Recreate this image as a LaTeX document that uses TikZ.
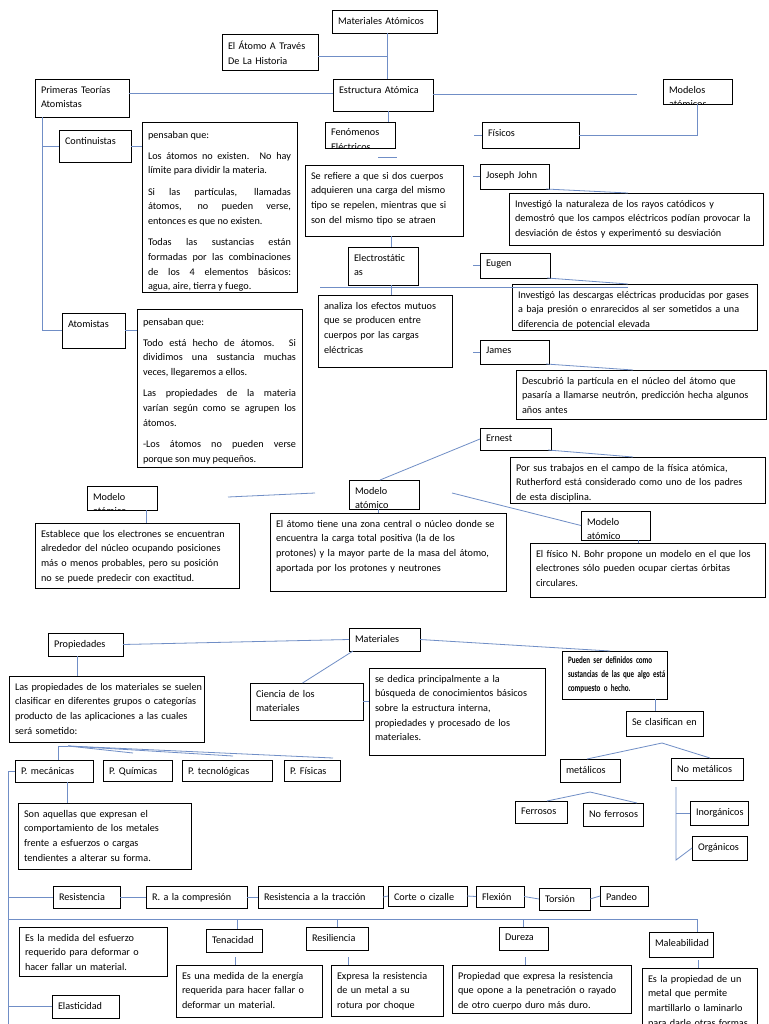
\documentclass[tikz,border=0pt]{standalone}
\usepackage{fontspec}
\setmainfont{Carlito}
\newfontfamily\condfont[FakeStretch=0.72]{Carlito}
\usetikzlibrary{calc}
\definecolor{lnk}{RGB}{112,142,198}
\tikzset{
 boxst/.style={draw=black, line width=0.8pt, fill=white, inner sep=0pt, outer sep=0pt, rectangle},
 txtst/.style={anchor=north west, inner sep=0pt, outer sep=0pt, align=left, font=\fontsize{10.2}{14.7}\selectfont},
 con/.style={draw=lnk, line width=0.8pt},
}
\newcommand\bx[7][]{%
  \pgfmathsetmacro\bw{#5-#3}\pgfmathsetmacro\bh{#6-#4}\pgfmathsetmacro\tw{#5-#3+80}%
  \node[boxst, minimum width=\bw pt, minimum height=\bh pt] (#2) at ({(#3+#5)/2},{(#4+#6)/2}) {};
  \begin{scope}
    \clip (#2.north west) rectangle (#2.south east);
    \node[txtst, text width=\tw pt, #1] (#2t) at ({#3+6},{#4+7}) {#7};
  \end{scope}
}
\begin{document}
\begin{tikzpicture}[x=1pt,y=-1pt]
\fill[white] (0,0) rectangle (768,1024);
\useasboundingbox (0,0) rectangle (768,1024);
% ---------- upper part ----------
\bx{matat}{332}{10}{437}{33}{Materiales Atómicos}
\bx{atomo}{222}{34}{318}{70}{El Átomo A Través\\De La Historia}
\bx{prim}{35}{79}{129}{117}{Primeras Teorías\\Atomistas}
\bx{estr}{333}{79}{433}{111}{Estructura Atómica}
\bx{mods}{663}{79}{732}{104}{Modelos\\atómicos}
\bx{cont}{59}{130}{131}{162}{Continuistas}
\bx[align=justify,text width=143pt,yshift=-2pt]{pens1}{142}{122}{297}{292}{pensaban que:\par\vspace{6.5pt}
Los átomos no existen. No hay\linebreak límite para dividir la materia.\par\vspace{6.5pt}
Si las partículas, llamadas\linebreak átomos, no pueden verse,\linebreak entonces es que no existen.\par\vspace{6.5pt}
Todas las sustancias están\linebreak formadas por las combinaciones\linebreak de los 4 elementos básicos:\linebreak agua, aire, tierra y fuego.}
\bx{fen}{325}{122}{395}{148}{Fenómenos\\Eléctricos}
\bx{fis}{482}{122}{579}{148}{Físicos}
\bx{sere}{305}{165}{463}{236}{Se refiere a que si dos cuerpos\\adquieren una carga del mismo\\tipo se repelen, mientras que si\\son del mismo tipo se atraen}
\bx{jj}{480}{164}{549}{189}{Joseph John}
\bx{jjd}{509}{193}{763}{245}{Investigó la naturaleza de los rayos catódicos y\\demostró que los campos eléctricos podían provocar la\\desviación de éstos y experimentó su desviación}
\bx{elec}{348}{247}{418}{285}{Electrostátic\\as}
\bx{eug}{480}{253}{550}{278}{Eugen}
\bx{eugd}{512}{284}{757}{330}{Investigó las descargas eléctricas producidas por gases\\a baja presión o enrarecidos al ser sometidos a una\\diferencia de potencial elevada}
\bx{anal}{318}{295}{452}{367}{analiza los efectos mutuos\\que se producen entre\\cuerpos por las cargas\\eléctricas}
\bx{atom}{62}{313}{125}{348}{Atomistas}
\bx[align=justify,text width=153pt,yshift=-2pt]{pens2}{137}{309}{302}{467}{pensaban que:\par\vspace{6.5pt}
Todo está hecho de átomos. Si\linebreak dividimos una sustancia muchas\linebreak veces, llegaremos a ellos.\par\vspace{6.5pt}
Las propiedades de la materia\linebreak varían según como se agrupen los\linebreak átomos.\par\vspace{6.5pt}
-Los átomos no pueden verse\linebreak porque son muy pequeños.}
\bx{jam}{480}{340}{549}{364}{James}
\bx{jamd}{516}{370}{766}{419}{Descubrió la partícula en el núcleo del átomo que\\pasaría a llamarse neutrón, predicción hecha algunos\\años antes}
\bx{ern}{480}{428}{551}{450}{Ernest}
\bx{ernd}{510}{457}{765}{503}{Por sus trabajos en el campo de la física atómica,\\Rutherford está considerado como uno de los padres\\de esta disciplina.}
\bx{mmid}{349}{480}{419}{509}{Modelo\\atómico}
\bx{mlft}{87}{486}{157}{510}{Modelo\\atómico}
\bx{mbohr}{581}{511}{650}{540}{Modelo\\atómico}
\bx{elat}{270}{513}{506}{591}{El átomo tiene una zona central o núcleo donde se\\encuentra la carga total positiva (la de los\\protones) y la mayor parte de la masa del átomo,\\aportada por los protones y neutrones}
\bx{estab}{35}{523}{239}{588}{Establece que los electrones se encuentran\\alrededor del núcleo ocupando posiciones\\más o menos probables, pero su posición\\no se puede predecir con exactitud.}
\bx{bohrd}{530}{543}{765}{597}{El físico N. Bohr propone un modelo en el que los\\electrones sólo pueden ocupar ciertas órbitas\\circulares.}
% ---------- lower part ----------
\bx{mat}{349}{628}{420}{651}{Materiales}
\bx{prop}{48}{633}{123}{656}{Propiedades}
\bx{lasp}{9}{676}{204}{742}{Las propiedades de los materiales se suelen\\clasificar en diferentes grupos o categorías\\producto de las aplicaciones a las cuales\\será sometido:}
\bx{cien}{250}{683}{363}{720}{Ciencia de los\\materiales}
\bx{sed}{369}{668}{545}{755}{se dedica principalmente a la\\búsqueda de conocimientos básicos\\sobre la estructura interna,\\propiedades y procesado de los\\materiales.}
\bx[font=\condfont\bfseries\fontsize{9.8}{13.6}\selectfont,yshift=1pt]{pued}{562}{651}{667}{699}{Pueden ser definidos como\\sustancias de las que algo está\\compuesto o hecho.}
\bx{sec}{626}{711}{703}{736}{Se clasifican en}
\bx{metal}{560}{759}{620}{782}{metálicos}
\bx{nomet}{671}{758}{743}{780}{No metálicos}
\bx{ferr}{515}{801}{567}{823}{Ferrosos}
\bx{noferr}{583}{803}{643}{826}{No ferrosos}
\bx{inorg}{690}{801}{748}{825}{Inorgánicos}
\bx{org}{692}{836}{747}{860}{Orgánicos}
\bx{pmec}{15}{760}{93}{782}{P. mecánicas}
\bx{pqui}{103}{760}{172}{781}{P. Químicas}
\bx{ptec}{182}{760}{272}{781}{P. tecnológicas}
\bx{pfis}{284}{760}{340}{781}{P. Físicas}
\bx{son}{18}{803}{191}{869}{Son aquellas que expresan el\\comportamiento de los metales\\frente a esfuerzos o cargas\\tendientes a alterar su forma.}
\bx{res}{53}{886}{120}{908}{Resistencia}
\bx{rcomp}{146}{886}{247}{908}{R. a la compresión}
\bx{rtrac}{258}{886}{383}{908}{Resistencia a la tracción}
\bx{corte}{388}{886}{467}{906}{Corte o cizalle}
\bx{flex}{476}{886}{524}{907}{Flexión}
\bx{tors}{539}{888}{590}{910}{Torsión}
\bx{pand}{600}{886}{648}{906}{Pandeo}
\bx{esm}{19}{927}{167}{976}{Es la medida del esfuerzo\\requerido para deformar o\\hacer fallar un material.}
\bx{ten}{206}{929}{262}{952}{Tenacidad}
\bx{resi}{306}{927}{368}{950}{Resiliencia}
\bx{dur}{499}{927}{548}{950}{Dureza}
\bx{mal}{649}{932}{713}{957}{Maleabilidad}
\bx{tend}{176}{965}{322}{1017}{Es una medida de la energía\\requerida para hacer fallar o\\deformar un material.}
\bx{resd}{331}{965}{443}{1016}{Expresa la resistencia\\de un metal a su\\rotura por choque}
\bx{durd}{452}{965}{631}{1013}{Propiedad que expresa la resistencia\\que opone a la penetración o rayado\\de otro cuerpo duro más duro.}
\bx{mald}{642}{968}{757}{1030}{Es la propiedad de un\\metal que permite\\martillarlo o laminarlo\\para darle otras formas}
\bx{elas}{52}{995}{119}{1018}{Elasticidad}
% ---------- connectors upper ----------
\coordinate (v1) at (387,56);
\draw[con] (matat.south -| v1) -- (estr.north -| v1);
\draw[con] (atomo.east |- v1) -- (v1);
\coordinate (ya) at (0,93);
\draw[con] (prim.east |- ya) -- (estr.west |- ya);
\coordinate (c1) at (637,94);
\draw[con] (estr.east |- c1) -- (c1);
\coordinate (x697) at (697,135);
\draw[con] (mods.south -| x697) -- (x697) -- (fis.east |- x697);
\draw[con] (fis.west |- x697) -- ++(-8,0);
\coordinate (x388) at (388,0);
\draw[con] (estr.south -| x388) -- (fen.north -| x388);
\coordinate (d1) at (378,157); \coordinate (d2) at (397,157);
\draw[con] (d1) -- (d2);
\coordinate (pv) at (42,0);
\draw[con] (prim.south -| pv) |- (atom.west);
\draw[con] (cont.west) -- (cont.west -| pv);
\draw[con] (cont.east) -- (cont.east -| pens1.west);
\draw[con] (atom.east) -- (atom.east -| pens2.west);
\draw[con] (jj.west) -- ++(-7,0);
\draw[con] (eug.west) -- ++(-7,0);
\draw[con] (jam.west) -- ++(-7,0);
\coordinate (ex) at (391,0);
\draw[con] (sere.south -| ex) -- (elec.north -| ex);
\draw[con] (elec.south -| ex) -- (anal.north -| ex);
\coordinate (h1) at (320,287); \coordinate (h2) at (628,287);
\draw[con] (h1) -- (h2);
\draw[con] ([xshift=-3pt]jj.south east) -- ($(jjd.north west)+(119,0)$);
\draw[con] ([xshift=-3pt]eug.south east) -- ($(eugd.north west)+(116,0)$);
\draw[con] ([xshift=-3pt]jam.south east) -- ($(jamd.north west)+(117,0)$);
\draw[con] ([xshift=-3pt]ern.south east) -- ($(ernd.north west)+(123,0)$);
\draw[con] (ern.west) -- ([xshift=-4pt]mmid.north);
\coordinate (s1) at (228,497); \coordinate (s2) at (315,493);
\draw[con] (s1) -- (s2);
\coordinate (s3) at (452,493);
\draw[con] (s3) -- (mbohr.west);
\coordinate (q1) at ($(mlft.south west)+(59,0)$);
\draw[con] (q1) -- (q1 |- estab.north);
\coordinate (q2) at ($(mmid.south west)+(29,0)$);
\draw[con] (q2) -- (q2 |- elat.north);
\coordinate (q3) at ($(mbohr.south west)+(57,0)$);
\draw[con] (q3) -- (q3 |- bohrd.north);
% ---------- connectors lower ----------
\draw[con] (prop.east) -- (mat.west);
\draw[con] (mat.east) -- ($(pued.north west)+(48,0)$);
\draw[con] ([xshift=4pt]mat.south west) -- ([xshift=-4pt]cien.north);
\draw[con] (cien.east) -- (cien.east -| sed.west);
\coordinate (q4) at ($(prop.south west)+(29,0)$);
\draw[con] (q4) -- (q4 |- lasp.north);
\coordinate (hub) at (68,746);
\coordinate (q5) at ($(pmec.north west)+(43,0)$);
\draw[con] (hub) -| (q5);
\coordinate (f1) at (133,753); \coordinate (f2) at (233,756); \coordinate (f3) at (333,758);
\draw[con] (hub) -- (f1);
\draw[con] (hub) -- (f2);
\draw[con] (hub) -- (f3);
\coordinate (lv) at (8,1024);
\draw[con] (pmec.west) -- (pmec.west -| lv) -- (lv);
\coordinate (q6) at ($(pmec.south west)+(52,0)$);
\draw[con] (q6) -- (q6 |- son.north);
\draw[con] (res.west) -- (res.west -| lv);
\draw[con] (elas.west) -- (elas.west -| lv);
\draw[con] (res.east) -- (rcomp.west);
\draw[con] (rcomp.east) -- (rtrac.west);
\draw[con] (rtrac.east) -- (corte.west);
\draw[con] (corte.east) -- (flex.west);
\draw[con] (flex.east) -- (tors.west);
\draw[con] (tors.east) -- (pand.west);
\coordinate (hl) at (8,919); \coordinate (hr) at (697,919);
\draw[con] (hl) -- (hr) -- (hr |- mal.north);
\coordinate (q7) at ($(ten.north west)+(31,0)$);
\draw[con] (q7 |- hl) -- (q7);
\draw[con] (resi.north |- hl) -- (resi.north);
\draw[con] (dur.north |- hl) -- (dur.north);
\draw[con] ($(tend.north west)+(59,0)$) -- ++(0,-8);
\draw[con] ($(resd.north west)+(17,0)$) -- ++(0,-8);
\draw[con] ($(durd.north west)+(73,0)$) -- ++(0,-8);
\draw[con] ($(mald.north west)+(56,0)$) -- ++(0,-8);
\coordinate (q8) at ($(pued.south west)+(93,0)$);
\draw[con] (q8) -- (q8 |- sec.north);
\coordinate (hub2) at (662,743);
\draw[con] (hub2) -- ($(metal.north west)+(27,0)$);
\draw[con] (hub2) -- ($(nomet.north west)+(39,0)$);
\coordinate (hub3) at (590,792);
\draw[con] (hub3) -- ($(ferr.north west)+(32,0)$);
\draw[con] (hub3) -- ($(noferr.north west)+(54,0)$);
\coordinate (nv1) at (676,787); \coordinate (nv2) at (676,860);
\draw[con] (nv1) -- (nv2) -- (org.west);
\draw[con] (inorg.west) -- (inorg.west -| nv1);
\end{tikzpicture}
\end{document}
